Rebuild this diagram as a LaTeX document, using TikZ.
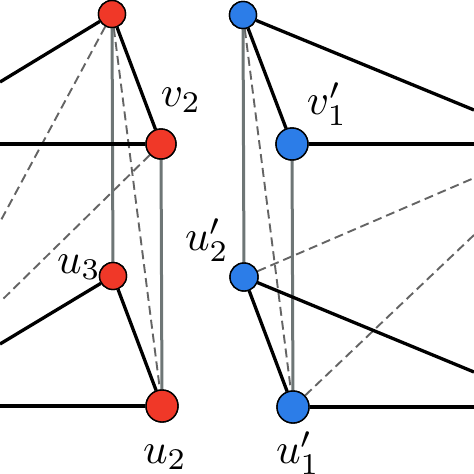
\documentclass[tikz,border=0pt]{standalone}
\begin{document}
\begin{tikzpicture}[x=1pt,y=-1pt,
  vtx/.style={circle,draw=black,line width=1.4pt,inner sep=0pt},
  rv/.style={vtx,fill=nred},
  bv/.style={vtx,fill=nblue},
  edge/.style={line width=3.3pt,black},
  grayedge/.style={line width=3pt,draw=gline},
  dashedge/.style={line width=1.9pt,draw=dline,dash pattern=on 9pt off 5pt},
  lbl/.style={scale=4.3,inner sep=0pt}]
\definecolor{nred}{RGB}{240,56,40}
\definecolor{nblue}{RGB}{44,125,232}
\definecolor{gline}{RGB}{110,118,118}
\definecolor{dline}{RGB}{100,100,100}
\useasboundingbox (0,0) rectangle (474,474);
% nodes (placement)
\node[rv,minimum size=27pt] (r1) at (112,14) {};
\node[rv,minimum size=30pt] (v2) at (161,144) {};
\node[rv,minimum size=27pt] (u3) at (113,276) {};
\node[rv,minimum size=32pt] (u2) at (162,406) {};
\node[bv,minimum size=27pt] (b1) at (243,15) {};
\node[bv,minimum size=32pt] (v1) at (292,144) {};
\node[bv,minimum size=28pt] (u2p) at (244,277) {};
\node[bv,minimum size=32pt] (u1p) at (293,407) {};
% free ends
\coordinate (L1) at (0,82);
\coordinate (L2) at (0,144);
\coordinate (L3) at (0,344);
\coordinate (L4) at (0,406);
\coordinate (Ld1) at (0,222);
\coordinate (Ld2) at (0,302);
\coordinate (R1) at (474,110);
\coordinate (R2) at (474,144);
\coordinate (R3) at (474,372);
\coordinate (R4) at (474,407);
\coordinate (Rd1) at (474,178);
\coordinate (Rd2) at (474,235);
% dashed
\draw[dashedge] (r1) -- (Ld1);
\draw[dashedge] (v2) -- (Ld2);
\draw[dashedge] (r1) -- (u2);
\draw[dashedge] (b1) -- (u1p);
\draw[dashedge] (u2p) -- (Rd1);
\draw[dashedge] (u1p) -- (Rd2);
% gray
\draw[grayedge] (r1) -- (u3);
\draw[grayedge] (v2) -- (u2);
\draw[grayedge] (b1) -- (u2p);
\draw[grayedge] (v1) -- (u1p);
% black
\draw[edge] (r1) -- (L1);
\draw[edge] (r1) -- (v2);
\draw[edge] (v2) -- (L2);
\draw[edge] (u3) -- (L3);
\draw[edge] (u3) -- (u2);
\draw[edge] (u2) -- (L4);
\draw[edge] (b1) -- (R1);
\draw[edge] (b1) -- (v1);
\draw[edge] (v1) -- (R2);
\draw[edge] (u2p) -- (R3);
\draw[edge] (u2p) -- (u1p);
\draw[edge] (u1p) -- (R4);
% redraw nodes on top
\node[rv,minimum size=27pt] at (r1) {};
\node[rv,minimum size=30pt] at (v2) {};
\node[rv,minimum size=27pt] at (u3) {};
\node[rv,minimum size=32pt] at (u2) {};
\node[bv,minimum size=27pt] at (b1) {};
\node[bv,minimum size=32pt] at (v1) {};
\node[bv,minimum size=28pt] at (u2p) {};
\node[bv,minimum size=32pt] at (u1p) {};
% labels
\node[lbl] (lv2) at (181,100) {$v_2$};
\node[lbl] (lu3) at (79,267) {$u_3$};
\node[lbl] (lu2) at (165,457) {$u_2$};
\node[lbl] (lv1) at (327,104) {$v'_1$};
\node[lbl] (lu2p) at (207,240) {$u'_2$};
\node[lbl] (lu1p) at (298,453) {$u'_1$};
\end{tikzpicture}
\end{document}
